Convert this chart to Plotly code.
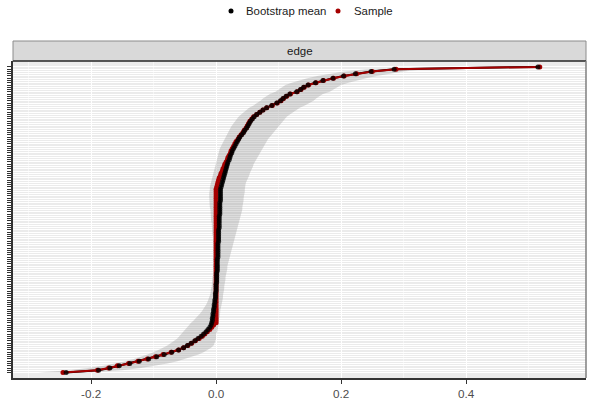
import plotly.graph_objects as go

# Sorted edge weights (bottom -> top)
sample = [
    -0.245, -0.190, -0.172, -0.158, -0.140, -0.125, -0.110, -0.097, -0.085, -0.072,
    -0.060, -0.052, -0.045, -0.039, -0.033, -0.027, -0.022, -0.018, -0.014, -0.010,
    -0.007, -0.004,
] + [0.0] * 60 + [
    0.001, 0.002, 0.003, 0.004, 0.005, 0.007, 0.008, 0.010, 0.011, 0.013,
    0.014, 0.016, 0.018, 0.019, 0.021, 0.023, 0.024, 0.026, 0.028, 0.030,
    0.032, 0.035, 0.037, 0.040, 0.043, 0.045, 0.048, 0.050, 0.052, 0.054,
    0.057, 0.060, 0.065, 0.070, 0.075, 0.081, 0.090, 0.098, 0.104, 0.108,
    0.113, 0.119, 0.130, 0.136, 0.141, 0.148, 0.160, 0.172, 0.188, 0.205,
    0.225, 0.250, 0.288, 0.518,
]

boot_mean = [
    -0.240, -0.188, -0.170, -0.155, -0.138, -0.123, -0.108, -0.095, -0.083, -0.071,
    -0.060, -0.052, -0.046, -0.040, -0.034, -0.029, -0.024, -0.020, -0.016, -0.013,
    -0.010, -0.008,
    -0.007, -0.006, -0.006, -0.005, -0.005, -0.004, -0.004, -0.003, -0.003, -0.002,
    -0.002, -0.001, -0.001, -0.001, 0.000, 0.000, 0.000, 0.000, 0.001, 0.001,
    0.001, 0.001, 0.001, 0.002, 0.002, 0.002, 0.002, 0.002, 0.002, 0.003,
    0.003, 0.003, 0.003, 0.003, 0.003, 0.003, 0.004, 0.004, 0.004, 0.004,
    0.004, 0.004, 0.005, 0.005, 0.005, 0.005, 0.005, 0.005, 0.006, 0.006,
    0.006, 0.006, 0.006, 0.006, 0.007, 0.007, 0.007, 0.007, 0.007, 0.007,
    0.008, 0.009, 0.010, 0.011, 0.012, 0.013, 0.014, 0.015, 0.016, 0.017,
    0.018, 0.019, 0.021, 0.022, 0.023, 0.025, 0.026, 0.028, 0.030, 0.032,
    0.034, 0.036, 0.038, 0.041, 0.044, 0.046, 0.049, 0.051, 0.053, 0.055,
    0.058, 0.061, 0.065, 0.070, 0.075, 0.081, 0.089, 0.097, 0.103, 0.107,
    0.112, 0.118, 0.129, 0.135, 0.140, 0.147, 0.159, 0.171, 0.187, 0.204,
    0.223, 0.248, 0.285, 0.515,
]

ci_lower = [
    -0.285, -0.235, -0.205, -0.180, -0.160, -0.145, -0.132, -0.120, -0.110, -0.100,
    -0.092, -0.085, -0.078, -0.072, -0.067, -0.062, -0.058, -0.055, -0.052, -0.049,
    -0.046, -0.043,
    -0.040, -0.036, -0.032, -0.029, -0.026, -0.023, -0.020, -0.018, -0.016, -0.014,
    -0.012, -0.011, -0.010, -0.009, -0.008, -0.008, -0.007, -0.007, -0.006, -0.006,
    -0.006, -0.005, -0.005, -0.005, -0.005, -0.004, -0.004, -0.004, -0.004, -0.004,
    -0.004, -0.004, -0.004, -0.004, -0.004, -0.005, -0.005, -0.005, -0.005, -0.006,
    -0.006, -0.006, -0.007, -0.007, -0.007, -0.008, -0.008, -0.008, -0.009, -0.009,
    -0.009, -0.010, -0.010, -0.010, -0.010, -0.011, -0.011, -0.011, -0.011, -0.010,
    -0.010, -0.009, -0.008, -0.007, -0.006, -0.005, -0.004, -0.003, -0.002, -0.001,
    0.000, 0.000, 0.001, 0.002, 0.003, 0.004, 0.005, 0.006, 0.007, 0.009,
    0.011, 0.013, 0.015, 0.017, 0.019, 0.021, 0.023, 0.025, 0.027, 0.030,
    0.033, 0.036, 0.040, 0.044, 0.048, 0.053, 0.060, 0.066, 0.071, 0.075,
    0.080, 0.086, 0.095, 0.100, 0.105, 0.111, 0.121, 0.132, 0.146, 0.162,
    0.180, 0.205, 0.240, 0.470,
]

ci_upper = [
    -0.200, -0.150, -0.120, -0.095, -0.078, -0.062, -0.050, -0.038, -0.028, -0.020,
    -0.013, -0.008, -0.004, -0.002, -0.001, 0.000, 0.000, 0.000, 0.002, 0.002,
    0.003, 0.004,
    0.004, 0.005, 0.005, 0.006, 0.006, 0.007, 0.007, 0.008, 0.009, 0.010,
    0.010, 0.011, 0.011, 0.012, 0.012, 0.013, 0.013, 0.014, 0.014, 0.015,
    0.015, 0.016, 0.016, 0.017, 0.018, 0.018, 0.019, 0.020, 0.021, 0.022,
    0.022, 0.023, 0.024, 0.025, 0.026, 0.027, 0.028, 0.029, 0.030, 0.031,
    0.032, 0.033, 0.034, 0.035, 0.036, 0.037, 0.038, 0.039, 0.040, 0.041,
    0.042, 0.042, 0.043, 0.043, 0.044, 0.044, 0.045, 0.045, 0.046, 0.046,
    0.046, 0.047, 0.048, 0.050, 0.051, 0.053, 0.054, 0.056, 0.057, 0.059,
    0.060, 0.062, 0.064, 0.066, 0.068, 0.070, 0.072, 0.074, 0.076, 0.078,
    0.080, 0.083, 0.086, 0.089, 0.092, 0.095, 0.098, 0.101, 0.104, 0.107,
    0.110, 0.113, 0.118, 0.123, 0.128, 0.134, 0.142, 0.150, 0.156, 0.160,
    0.165, 0.171, 0.182, 0.188, 0.193, 0.200, 0.212, 0.224, 0.240, 0.257,
    0.276, 0.300, 0.335, 0.560,
]

x_tick_vals = [-0.2, 0.0, 0.2, 0.4]
x_tick_text = ["-0.2", "0.0", "0.2", "0.4"]
x_minor_vals = [-0.3, -0.1, 0.1, 0.3, 0.5]
strip_label = "edge"
legend_names = ["Bootstrap mean", "Sample"]

rank = list(range(len(sample)))

MEAN_COL = "#000000"
SAMPLE_COL = "#A50000"
FONT = "Liberation Sans, Arial, sans-serif"

fig = go.Figure()

# CI ribbon
fig.add_trace(go.Scatter(
    x=ci_upper + ci_lower[::-1], y=rank + rank[::-1],
    fill="toself", fillcolor="rgba(150,150,150,0.33)",
    line=dict(width=0), mode="lines", hoverinfo="skip", showlegend=False))

# lines
fig.add_trace(go.Scatter(x=boot_mean, y=rank, mode="lines", name=legend_names[0],
                         line=dict(color=MEAN_COL, width=2), showlegend=False))
fig.add_trace(go.Scatter(x=sample, y=rank, mode="lines", name=legend_names[1],
                         line=dict(color=SAMPLE_COL, width=2), showlegend=False))
# points
fig.add_trace(go.Scatter(x=sample, y=rank, mode="markers", name=legend_names[1],
                         marker=dict(color=SAMPLE_COL, size=5), showlegend=False))
fig.add_trace(go.Scatter(x=boot_mean, y=rank, mode="markers", name=legend_names[0],
                         marker=dict(color="rgba(0,0,0,0.8)", size=5), showlegend=False))

# legend drawn manually (paper coords: plot area spans 13..586 px, 61..378 px)
PW, PH, PL, PT = 573.0, 317.0, 13.0, 61.0
leg_y = 1 + (PT - 11) / PH
for name, col, mx, tx in [(legend_names[0], MEAN_COL, 231, 244),
                          (legend_names[1], SAMPLE_COL, 338, 352)]:
    fig.add_shape(type="circle", xref="paper", yref="paper",
                  xsizemode="pixel", ysizemode="pixel",
                  xanchor=(mx - PL) / PW, yanchor=leg_y,
                  x0=-2.5, x1=2.5, y0=-2.5, y1=2.5,
                  fillcolor=col, line=dict(width=0))
    fig.add_annotation(text=name, xref="paper", yref="paper", x=(tx - PL) / PW, y=leg_y,
                       xanchor="left", yanchor="middle", showarrow=False,
                       font=dict(family=FONT, size=11.4, color="#1A1A1A"))

# strip
fig.add_shape(type="rect", xref="paper", yref="paper", x0=0, x1=1, y0=1.0, y1=1 + 20 / PH,
              fillcolor="#D9D9D9", line=dict(color="#8C8C8C", width=1), layer="above")
fig.add_shape(type="line", xref="paper", yref="paper", x0=0, x1=1, y0=1.0, y1=1.0,
              line=dict(color="#333333", width=1.5), layer="above")
fig.add_shape(type="line", xref="paper", yref="paper", x0=1, x1=1, y0=0, y1=1.0,
              line=dict(color="#7F7F7F", width=1.5), layer="above")
fig.add_annotation(text=strip_label, xref="paper", yref="paper", x=0.5, y=1 + 10 / PH,
                   showarrow=False, font=dict(family=FONT, size=11.5, color="#1A1A1A"),
                   xanchor="center", yanchor="middle")

fig.update_layout(
    width=600, height=404,
    margin=dict(l=13, r=14, t=61, b=26, autoexpand=False),
    paper_bgcolor="white", plot_bgcolor="#EBEBEB",
    font=dict(family=FONT, size=11.7, color="#1A1A1A"),
    showlegend=False,
    xaxis=dict(range=[-0.325, 0.592], tickvals=x_tick_vals, ticktext=x_tick_text,
               ticks="outside", ticklen=4, tickcolor="#333333", tickwidth=1,
               tickfont=dict(family=FONT, size=11.7, color="#4D4D4D"),
               showgrid=True, gridcolor="white", gridwidth=1, zeroline=False,
               showline=True, linecolor="#333333", linewidth=1.5, automargin=False,
               minor=dict(tickvals=x_minor_vals, showgrid=True, gridcolor="#F5F5F5",
                          gridwidth=0.5, ticks="")),
    yaxis=dict(range=[-2.4, 137.6], tickvals=rank, showticklabels=False,
               ticks="outside", ticklen=4, tickcolor="#333333", tickwidth=1,
               showgrid=True, gridcolor="white", gridwidth=0.5, zeroline=False,
               showline=True, linecolor="#333333", linewidth=1.5, automargin=False),
)

fig.write_html("out.html", config={"displayModeBar": False},
               post_script="document.body.style.margin='0';document.body.style.padding='0';")
